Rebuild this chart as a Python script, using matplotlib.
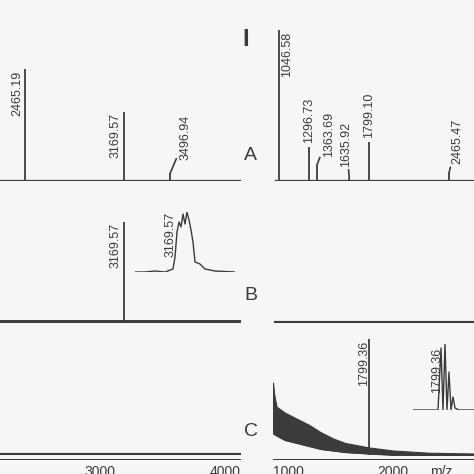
import matplotlib
matplotlib.use("Agg")
import matplotlib.pyplot as plt

plt.rcParams['font.family'] = ['Liberation Sans', 'DejaVu Sans']
W = H = 474
C = "#3b3b3b"
BG = "#f6f6f6"

# Row A peaks
a_left_mz = [2465.19, 3169.57, 3496.94]
a_left_int = [74, 46, 5]
a_right_mz = [1046.58, 1296.73, 1363.69, 1635.92, 1799.10, 2465.47]
a_right_int = [100, 22.5, 10, 2, 26, 5]
# Row B
b_left_mz = [3169.57]
b_left_int = [67]
b_inset_x = [0, 10, 20, 30, 38, 40, 42, 44, 46, 48, 50, 52, 54, 56, 58, 60, 65, 70, 80, 100]
b_inset_y = [0, 0, 1, 0, 3, 15, 40, 50, 45, 58, 48, 60, 52, 42, 30, 10, 8, 3, 1, 0]
# Row C
c_right_mz = [1799.36]
c_right_int = [77]
c_env_mz = [1000, 1010, 1030, 1100, 1200, 1300, 1400, 1500, 1600, 1800, 2000, 2300, 2675]
c_env_top = [48, 40, 32, 28, 24, 20, 15, 11, 8, 5, 3, 1.5, 1]
c_env_low = [15, 14, 13, 10, 8, 6, 4, 3, 2, 1, 0, -1, -1]
c_inset_x = [0, 10, 20, 25, 28, 30, 32, 34, 36, 38, 40, 42, 44, 46, 50, 61]
c_inset_y = [0, 0, 0, 0, 62, 0, 66, 0, 38, 0, 13, 2, 1, 0, 0, 0]

# label placement styles (pixel offsets from peak top), not data
LAB = {
    (0, 2465.19): (-7, -1, "top", False),
    (0, 3169.57): (-8, -1, "top", False),
    (0, 3496.94): (15, 13, "bottom", True),
    (1, 1046.58): (8, -2, "top", False),
    (1, 1296.73): (0, 4, "bottom", False),
    (1, 1363.69): (12, 9, "bottom", True),
    (1, 1635.92): (-3, 11, "bottom", True),
    (1, 1799.10): (0, 4, "bottom", False),
    (1, 2465.47): (8, 9, "bottom", True),
    (2, 3169.57): (-8, -1, "top", False),
    (3, 1799.36): (-5, -2, "top", False),
}

fig = plt.figure(figsize=(W/100, H/100), dpi=100, facecolor=BG)

def ax_px(x0, x1, ybase, h=151):
    a = fig.add_axes([x0/W, (H-ybase)/H, (x1-x0)/W, h/H])
    a.set_facecolor("none"); a.axis("off")
    return a

def peaks(a, key, mz, ints):
    a.vlines(mz, 0, ints, color=C, lw=1.3)
    for m, v in zip(mz, ints):
        dx, dy, va, lead = LAB[(key, m)]
        a.annotate(f"{m:.2f}", (m, v), xytext=(dx*0.72, dy*0.72), textcoords="offset points",
                   rotation=90, ha="center", va=va, fontsize=9, color=C,
                   arrowprops=dict(arrowstyle="-", color=C, lw=1.2, shrinkA=0, shrinkB=0) if lead else None)

LX = (2290, 4000); RX = (1000, 2675)
rows = [181, 323, 455]
axes = {}
for r, yb in enumerate(rows):
    al = ax_px(0, 241, yb); al.set_xlim(LX); al.set_ylim(0, 100)
    ar = ax_px(273, 474, yb); ar.set_xlim(RX); ar.set_ylim(0, 100)
    axes[r] = (al, ar)

al, ar = axes[0]
al.axhline(0, color=C, lw=1.6); ar.axhline(0, xmin=0.015, color=C, lw=1.6)
peaks(al, 0, a_left_mz, a_left_int)
peaks(ar, 1, a_right_mz, a_right_int)

al, ar = axes[1]
al.axhline(0, color=C, lw=5); ar.axhline(0, xmin=0.015, color=C, lw=3)
peaks(al, 2, b_left_mz, b_left_int)

al, ar = axes[2]
al.axhline(0, color=C, lw=3)
ar.fill_between(c_env_mz, c_env_low, c_env_top, color=C, lw=0.8, edgecolor=C)
ar.plot(c_env_mz, c_env_low, color=C, lw=1.5)
peaks(ar, 3, c_right_mz, c_right_int)

# insets
bi = ax_px(135, 235, 272, 60); bi.set_xlim(0, 100); bi.set_ylim(0, 60)
bi.plot(b_inset_x, b_inset_y, color=C, lw=1)
bi.text(36, 60, "3169.57", rotation=90, ha="center", va="top", fontsize=9, color=C)
ci = ax_px(413, 474, 410, 66); ci.set_xlim(0, 61); ci.set_ylim(0, 66)
ci.plot(c_inset_x, c_inset_y, color=C, lw=1)
ci.text(24, 62, "1799.36", rotation=90, ha="center", va="top", fontsize=9, color=C)

# x axes
xl = ax_px(0, 241, 460, 1); xl.set_xlim(LX); xl.set_ylim(-1, 1); xl.axhline(0, color=C, lw=1.5)
xr = ax_px(273, 474, 460, 1); xr.set_xlim(RX); xr.set_ylim(-1, 1); xr.axhline(0, color=C, lw=1.5)
xl.annotate("3000", (3000, 0), xytext=(0, -4), textcoords="offset points", ha="center", va="top", fontsize=10, color=C)
xl.annotate("4000", (4000, 0), xytext=(0, -4), textcoords="offset points", ha="right", va="top", fontsize=10, color=C)
xr.annotate("1000", (1000, 0), xytext=(0, -4), textcoords="offset points", ha="left", va="top", fontsize=10, color=C)
xr.annotate("2000", (2000, 0), xytext=(0, -4), textcoords="offset points", ha="center", va="top", fontsize=10, color=C)
xr.annotate("m/z", (2400, 0), xytext=(0, -4), textcoords="offset points", ha="center", va="top", fontsize=10, color=C)

for lab, y in zip("ABC", [155, 295, 432]):
    fig.text(244/W, 1 - y/H, lab, fontsize=14, color=C, ha="left", va="center")
fig.text(246/W, 1 - 39/H, "I", fontsize=17, fontweight="bold", color=C, ha="center", va="center")

fig.savefig("out.png", dpi=100, facecolor=BG)
